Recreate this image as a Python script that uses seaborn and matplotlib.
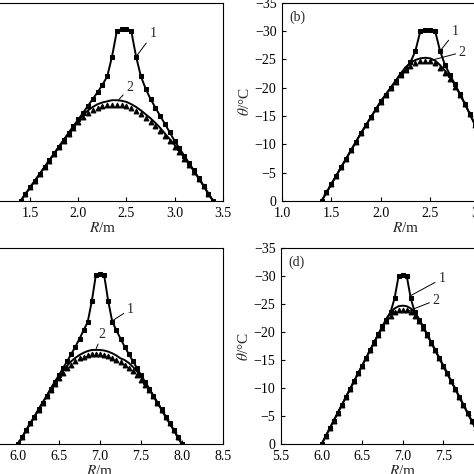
import numpy as np
import matplotlib
matplotlib.use('Agg')
import matplotlib.pyplot as plt
import seaborn as sns

sns.set_style('ticks')
plt.rcParams['font.family'] = ['Liberation Serif', 'DejaVu Serif']
plt.rcParams['mathtext.fontset'] = 'stix'

# radius grids (m)
r_a = np.round(np.arange(1.40, 3.401, 0.05), 2)
r_c = np.round(np.arange(6.00, 8.001, 0.05), 2)

# temperatures (positive = degrees below zero, plotted as negative)
a_1 = [0, 1.2, 2.4, 3.6, 4.8, 6.0, 7.2, 8.4, 9.6, 10.8, 12.0, 13.2, 14.4, 15.6, 16.8, 18.0, 19.2, 20.5, 22.0, 25.5,
       30.0, 30.3, 30.3, 30.0, 25.5, 22.0, 19.8, 18.0, 16.5, 15.0, 13.6, 12.1, 10.6, 9.3, 8.0, 6.7, 5.4, 4.0, 2.7, 1.3, 0]
a_2 = [0, 1.2, 2.4, 3.6, 4.8, 6.0, 7.2, 8.4, 9.6, 10.8, 12.0, 13.2, 14.3, 15.2, 16.0, 16.6, 17.1, 17.4, 17.6, 17.8,
       17.8, 17.7, 17.5, 17.1, 16.6, 16.0, 15.3, 14.6, 13.8, 12.9, 11.9, 10.9, 9.9, 8.8, 7.7, 6.5, 5.3, 4.0, 2.7, 1.3, 0]
a_3 = [0, 1.2, 2.4, 3.6, 4.8, 6.0, 7.1, 8.3, 9.5, 10.6, 11.8, 12.9, 13.9, 14.8, 15.5, 16.0, 16.4, 16.7, 16.9, 17.0,
       17.0, 16.9, 16.7, 16.4, 15.9, 15.3, 14.7, 14.0, 13.2, 12.4, 11.5, 10.6, 9.6, 8.6, 7.5, 6.4, 5.2, 3.9, 2.6, 1.3, 0]

b_1 = [0, 1.5, 3.0, 4.5, 6.0, 7.5, 9.0, 10.5, 12.0, 13.4, 14.8, 16.2, 17.6, 18.8, 20.0, 21.2, 22.4, 23.4, 24.5, 26.5,
       30.0, 30.2, 30.2, 30.0, 26.5, 24.0, 22.3, 20.6, 18.9, 17.2, 15.4, 13.6, 12.0, 10.4, 8.8, 7.2, 5.6, 4.2, 2.8, 1.4, 0]
b_2 = [0, 1.5, 3.0, 4.5, 6.0, 7.5, 9.0, 10.5, 12.0, 13.4, 14.8, 16.2, 17.6, 18.8, 20.0, 21.2, 22.5, 23.6, 24.4, 24.9,
       25.2, 25.3, 25.2, 24.8, 24.0, 23.0, 21.9, 20.5, 18.9, 17.2, 15.4, 13.6, 12.0, 10.4, 8.8, 7.2, 5.6, 4.2, 2.8, 1.4, 0]
b_3 = [0, 1.5, 3.0, 4.5, 6.0, 7.5, 9.0, 10.5, 12.0, 13.4, 14.8, 16.2, 17.5, 18.7, 19.9, 21.0, 22.2, 23.2, 23.9, 24.4,
       24.7, 24.8, 24.7, 24.3, 23.5, 22.6, 21.5, 20.2, 18.7, 17.1, 15.3, 13.5, 11.9, 10.3, 8.7, 7.1, 5.6, 4.2, 2.8, 1.4, 0]

c_1 = [0, 1.2, 2.5, 3.7, 4.9, 6.2, 7.4, 8.6, 9.9, 11.1, 12.3, 13.6, 14.8, 16.1, 17.4, 18.8, 20.3, 21.8, 25.5, 30.2,
       30.4, 30.2, 25.5, 21.8, 20.3, 18.8, 17.4, 16.1, 14.8, 13.6, 12.3, 11.1, 9.9, 8.6, 7.4, 6.2, 4.9, 3.7, 2.5, 1.2, 0]
c_2 = [0, 1.2, 2.5, 3.7, 4.9, 6.2, 7.4, 8.6, 9.9, 11.1, 12.2, 13.2, 14.0, 14.8, 15.4, 15.9, 16.3, 16.6, 16.8, 16.8,
       16.8, 16.7, 16.5, 16.2, 15.8, 15.3, 15.0, 14.5, 13.8, 13.0, 12.0, 11.0, 9.9, 8.6, 7.4, 6.2, 4.9, 3.7, 2.5, 1.2, 0]
c_3 = [0, 1.2, 2.5, 3.7, 4.9, 6.1, 7.3, 8.5, 9.7, 10.8, 11.8, 12.7, 13.5, 14.2, 14.8, 15.3, 15.6, 15.9, 16.0, 16.0,
       16.0, 15.9, 15.7, 15.4, 15.0, 14.6, 14.1, 13.6, 13.0, 12.3, 11.5, 10.6, 9.6, 8.5, 7.3, 6.1, 4.9, 3.7, 2.5, 1.2, 0]

d_1 = [0, 1.4, 2.8, 4.2, 5.6, 7.0, 8.4, 9.8, 11.2, 12.6, 14.0, 15.4, 16.8, 18.2, 19.6, 21.0, 22.2, 23.5, 26.0, 30.0,
       30.1, 30.0, 26.0, 23.5, 22.2, 21.0, 19.6, 18.2, 16.8, 15.4, 14.0, 12.6, 11.2, 9.8, 8.4, 7.0, 5.6, 4.2, 2.8, 1.4, 0]
d_2 = [0, 1.4, 2.8, 4.2, 5.6, 7.0, 8.4, 9.8, 11.2, 12.6, 14.0, 15.4, 16.8, 18.2, 19.6, 21.0, 22.4, 23.5, 24.2, 24.6,
       24.7, 24.6, 24.2, 23.5, 22.4, 21.0, 19.6, 18.2, 16.8, 15.4, 14.0, 12.6, 11.2, 9.8, 8.4, 7.0, 5.6, 4.2, 2.8, 1.4, 0]
d_3 = [0, 1.4, 2.8, 4.2, 5.6, 7.0, 8.4, 9.8, 11.2, 12.6, 14.0, 15.4, 16.8, 18.1, 19.4, 20.7, 21.9, 22.9, 23.6, 23.9,
       24.0, 23.9, 23.6, 22.9, 21.9, 20.7, 19.4, 18.1, 16.8, 15.4, 14.0, 12.6, 11.2, 9.8, 8.4, 7.0, 5.6, 4.2, 2.8, 1.4, 0]

panels = [
    # rect, r, s1, s2, s3, xlim, xticks, tag, label1 (point, text), label2 (point, text)
    ([-0.038, 0.576, 0.508, 0.418], r_a, a_1, a_2, a_3, (1.0, 3.5), [1.5, 2.0, 2.5, 3.0, 3.5], '',
     ((2.6, 25.5), (2.74, 29.5)), ((2.42, 17.9), (2.5, 20.0))),
    ([0.595, 0.576, 0.521, 0.418], r_a, b_1, b_2, b_3, (1.0, 3.5), [1.0, 1.5, 2.0, 2.5, 3.0, 3.5], '(b)',
     ((2.6, 26.5), (2.72, 29.9)), ((2.5, 24.8), (2.79, 26.3))),
    ([-0.0485, 0.063, 0.519, 0.414], r_c, c_1, c_2, c_3, (5.5, 8.5), [6.0, 6.5, 7.0, 7.5, 8.0, 8.5], '',
     ((7.15, 22.0), (7.33, 24.1)), ((6.95, 16.9), (6.98, 19.6))),
    ([0.593, 0.063, 0.513, 0.414], r_c, d_1, d_2, d_3, (5.5, 8.5), [5.5, 6.0, 6.5, 7.0, 7.5, 8.0, 8.5], '(d)',
     ((7.1, 26.5), (7.44, 29.5)), ((7.08, 23.8), (7.37, 25.7))),
]

fig = plt.figure(figsize=(4.74, 4.74), dpi=100)
for rect, r, s1, s2, s3, xlim, xticks, tag, lab1, lab2 in panels:
    ax = fig.add_axes(rect)
    sns.lineplot(x=r, y=-np.array(s1), ax=ax, color='black', lw=1.4, marker='s', markersize=3.5,
                 markeredgecolor='black', sort=False)
    sns.lineplot(x=r, y=-np.array(s2), ax=ax, color='black', lw=1.4, sort=False)
    sns.lineplot(x=r, y=-np.array(s3), ax=ax, color='black', lw=0, marker='^', markersize=3.5,
                 markeredgecolor='black', sort=False)
    ax.set_xlim(*xlim)
    ax.set_ylim(0, -35)
    ax.set_xticks(xticks)
    ax.set_xticklabels([f'{t:.1f}' for t in xticks])
    ax.set_yticks(range(0, -36, -5))
    ax.set_yticklabels(['0'] + [f'\u2212{v}' for v in range(5, 36, 5)])
    ax.tick_params(direction='in', labelsize=10, length=3, width=0.8, colors='black', pad=4)
    for s in ax.spines.values():
        s.set_linewidth(0.8)
        s.set_visible(True)
        s.set_color('black')
    ax.set_xlabel('$R$/m', fontsize=11, labelpad=1)
    ax.set_ylabel('$\\theta$/°C', fontsize=11, labelpad=2)
    if tag:
        ax.text(0.03, 0.96, tag, transform=ax.transAxes, ha='left', va='top', fontsize=10)
    for (xy, txt), name in ((lab1, '1'), (lab2, '2')):
        ax.annotate(name, xy=(xy[0], -xy[1]), xytext=(txt[0], -txt[1]), fontsize=10, ha='left', va='center',
                    arrowprops=dict(arrowstyle='-', lw=0.7, color='black', shrinkA=0, shrinkB=0))

fig.savefig('out.png', dpi=100)
